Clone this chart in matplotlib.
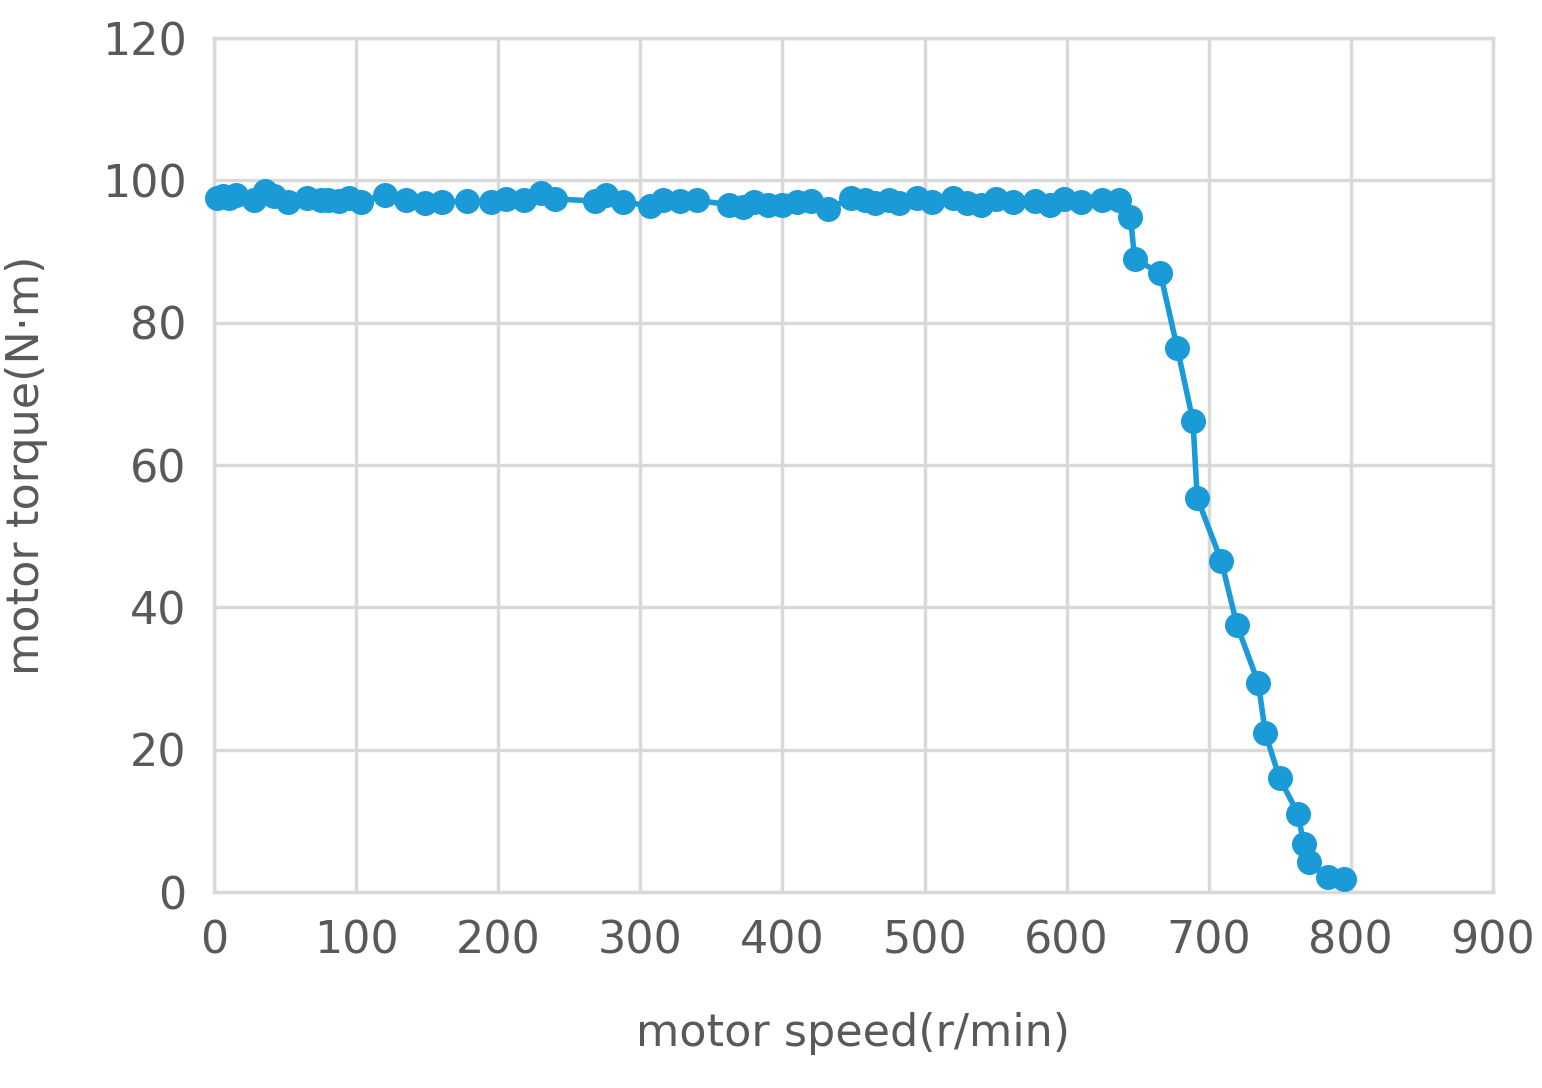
import matplotlib
matplotlib.use("Agg")
import matplotlib.pyplot as plt

speed = [2, 6, 10, 15, 28, 36, 42, 52, 65, 75, 80, 88, 95, 103, 120, 135, 148, 160, 178, 195,
         205, 218, 230, 240, 268, 276, 288, 307, 316, 328, 340, 362, 372, 380, 390, 400, 410, 420,
         432, 448, 458, 465, 475, 482, 495, 505, 520, 530, 540, 550, 562, 578, 588, 598, 610, 625,
         637, 645, 648, 666, 678, 689, 692, 709, 720, 735, 740, 750, 763, 767, 771, 784, 795]
torque = [97.5, 97.8, 97.6, 98.0, 97.3, 98.5, 97.8, 97.0, 97.5, 97.2, 97.3, 97.1, 97.5, 97.0, 98.0, 97.2,
          96.8, 96.9, 97.1, 97.0, 97.4, 97.3, 98.2, 97.4, 97.1, 98.0, 97.0, 96.4, 97.2, 97.1, 97.2,
          96.6, 96.2, 97.0, 96.5, 96.6, 97.0, 97.1, 96.0, 97.5, 97.3, 96.8, 97.2, 96.8, 97.5, 97.0,
          97.5, 96.8, 96.6, 97.4, 96.9, 97.1, 96.5, 97.4, 96.9, 97.2, 97.2, 94.8, 88.9, 87.0, 76.4,
          66.2, 55.4, 46.5, 37.5, 29.4, 22.3, 16.0, 11.0, 6.7, 4.2, 2.1, 1.8]
xticks = [0, 100, 200, 300, 400, 500, 600, 700, 800, 900]
yticks = [0, 20, 40, 60, 80, 100, 120]

fig = plt.figure(figsize=(15.42, 10.88), dpi=100)
ax = fig.add_axes([0.139, 0.180, 0.829, 0.785])
c = "#1a9bd7"
ax.plot(speed, torque, color=c, lw=4, marker="o", ms=17, zorder=3, clip_on=False)
ax.set_xlim(0, 900)
ax.set_ylim(0, 120)
ax.set_xticks(xticks)
ax.set_yticks(yticks)
ax.grid(True, color="#d9d9d9", lw=2.5)
for s in ax.spines.values():
    s.set_color("#d9d9d9"); s.set_linewidth(2.5)
ax.tick_params(length=0, labelsize=32, colors="#595959", pad=20)
ax.set_xlabel("motor speed(r/min)", fontsize=32, color="#595959", labelpad=35)
ax.set_ylabel("motor torque(N·m)", fontsize=32, color="#595959", labelpad=22)
ax.yaxis.set_label_coords(-0.13, 0.5)
fig.savefig("out.png", dpi=100)
